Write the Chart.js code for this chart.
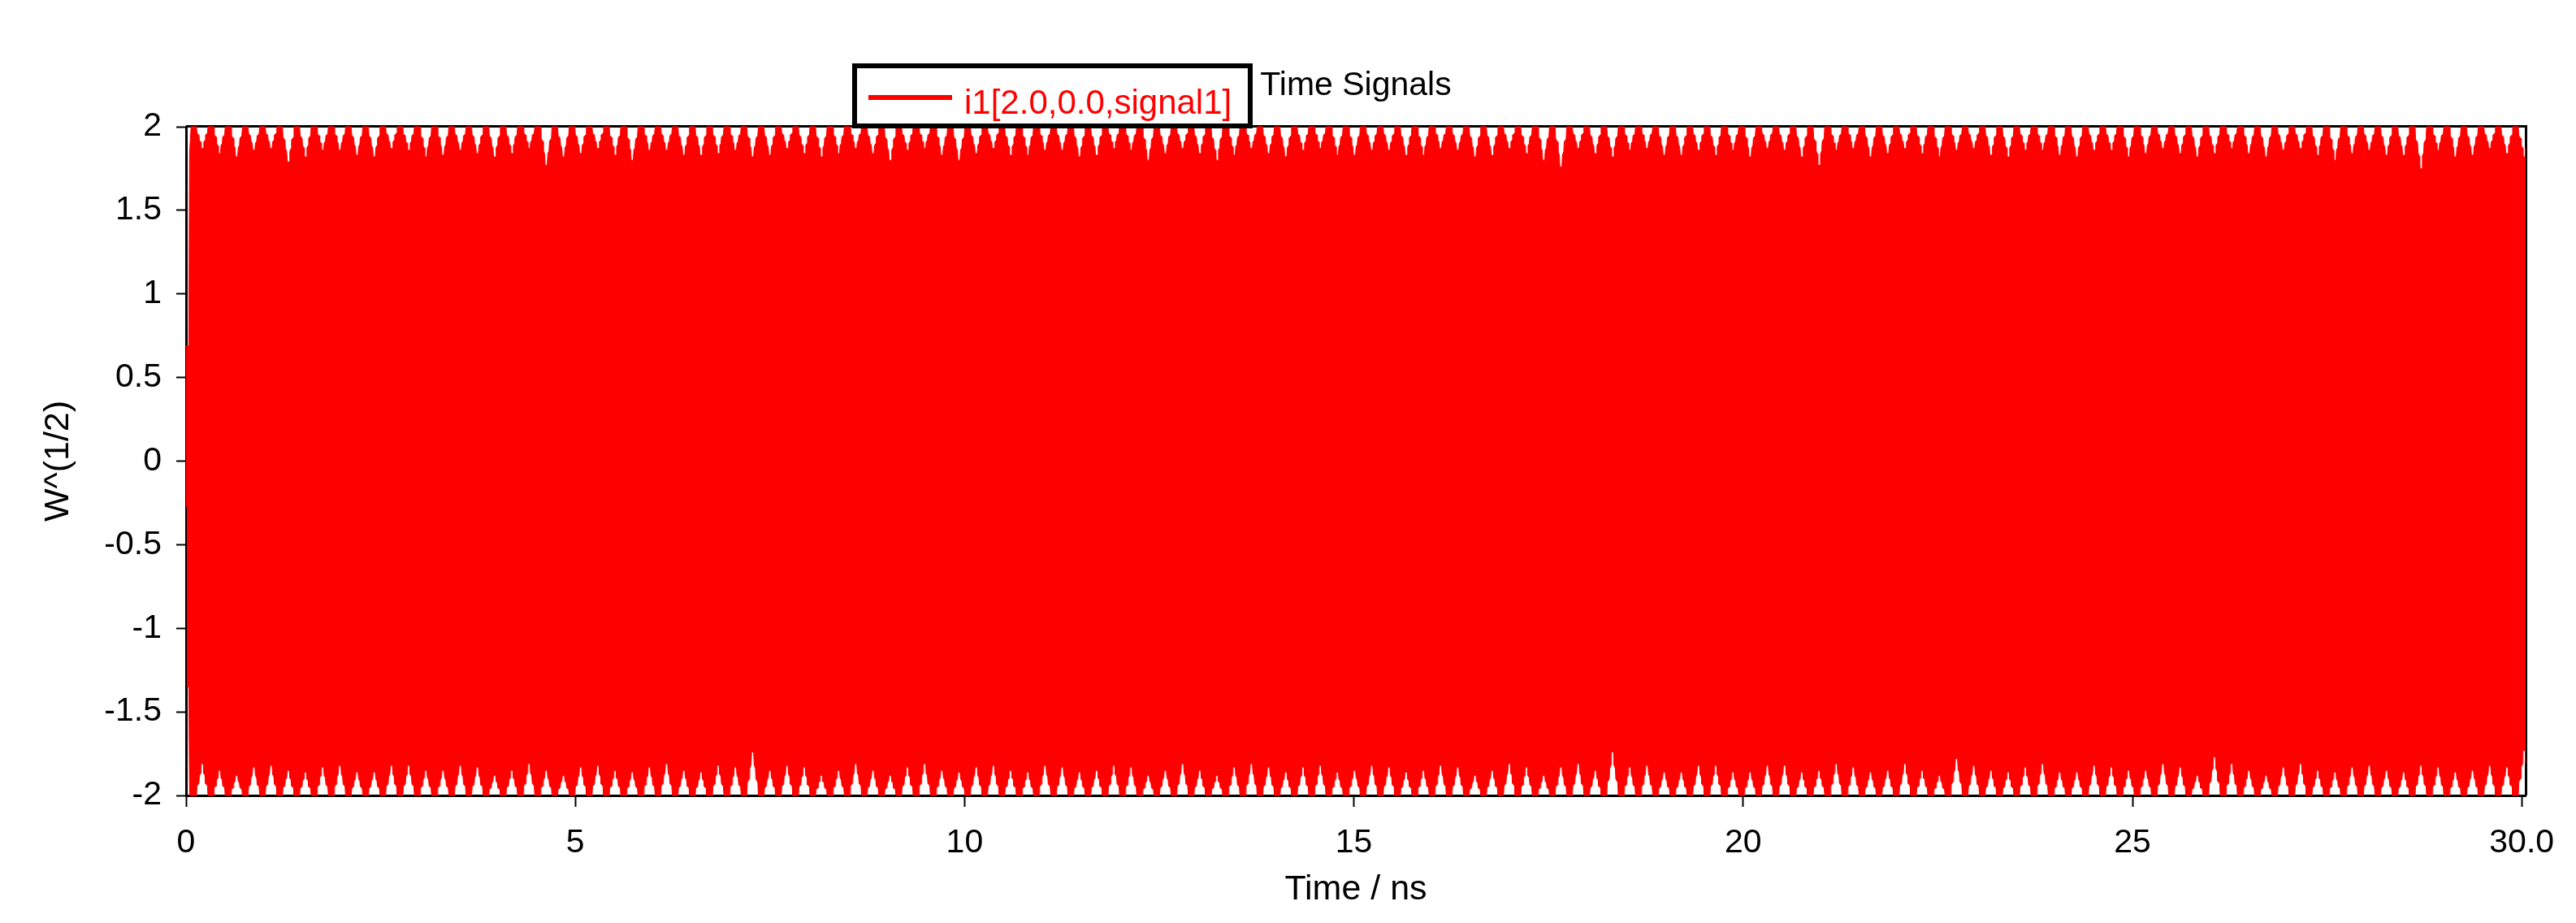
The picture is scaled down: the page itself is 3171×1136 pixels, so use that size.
<!DOCTYPE html>
<html>
<head>
<meta charset="utf-8">
<script src="https://cdn.jsdelivr.net/npm/chart.js@4.4.1/dist/chart.umd.min.js"></script>
<style>
  html, body { margin: 0; padding: 0; background: #fff; }
  #wrap { width: 3171px; height: 1136px; }
</style>
</head>
<body>
<div id="wrap"><canvas id="c" width="3171" height="1136"></canvas></div>
<script>
// ---------------- data ----------------
const seriesName = 'i1[2.0,0.0,signal1]';
const chartTitle = 'Time Signals';
const xTitle = 'Time / ns';
const yTitle = 'W^(1/2)';

const xTicks = [0, 5, 10, 15, 20, 25, 30];
const xTickLabels = ['0', '5', '10', '15', '20', '25', '30.0'];
const yTicks = [-2, -1.5, -1, -0.5, 0, 0.5, 1, 1.5, 2];
const yTickLabels = ['-2', '-1.5', '-1', '-0.5', '0', '0.5', '1', '1.5', '2'];

// peak amplitude of the dense oscillation (W^(1/2))
const peakLevel = 2.0;

// start of the trace (ns) and its first upper / lower extremes
const leadTimes = [0, 0.015, 0.02, 0.035, 0.045, 0.065];
const leadUpper = [0.69, 0.69, 0.69, 0.69, 1.84, 2.0];
const leadLower = [-0.27, -0.27, -1.35, -1.35, -2.0, -2.0];

// times (ns) where the oscillation peaks dip below full amplitude
const notchTimes = [
  0.208, 0.429, 0.650, 0.871, 1.092, 1.313, 1.533, 1.754, 1.975, 2.196,
  2.417, 2.638, 2.859, 3.080, 3.301, 3.522, 3.742, 3.963, 4.184, 4.405,
  4.626, 4.847, 5.068, 5.289, 5.510, 5.731, 5.951, 6.172, 6.393, 6.614,
  6.835, 7.056, 7.277, 7.498, 7.719, 7.940, 8.160, 8.381, 8.602, 8.823,
  9.044, 9.265, 9.486, 9.707, 9.928, 10.149, 10.369, 10.590, 10.811, 11.032,
  11.253, 11.474, 11.695, 11.916, 12.137, 12.358, 12.578, 12.799, 13.020, 13.241,
  13.462, 13.683, 13.904, 14.125, 14.346, 14.567, 14.787, 15.008, 15.229, 15.450,
  15.671, 15.892, 16.113, 16.334, 16.555, 16.776, 16.996, 17.217, 17.438, 17.659,
  17.880, 18.101, 18.322, 18.543, 18.764, 18.985, 19.205, 19.426, 19.647, 19.868,
  20.089, 20.310, 20.531, 20.752, 20.973, 21.194, 21.414, 21.635, 21.856, 22.077,
  22.298, 22.519, 22.740, 22.961, 23.182, 23.403, 23.623, 23.844, 24.065, 24.286,
  24.507, 24.728, 24.949, 25.170, 25.391, 25.612, 25.832, 26.053, 26.274, 26.495,
  26.716, 26.937, 27.158, 27.379, 27.600, 27.821, 28.041, 28.262, 28.483, 28.704,
  28.925, 29.146, 29.367, 29.588, 29.809, 30.030
];

// lowest positive peak at each dip (W^(1/2))
const topDips = [
  1.87, 1.84, 1.82, 1.86, 1.87, 1.79, 1.82, 1.86, 1.86, 1.83, 1.82, 1.87, 1.86, 1.82, 1.83,
  1.86, 1.84, 1.82, 1.84, 1.87, 1.77, 1.82, 1.84, 1.87, 1.83, 1.80, 1.86, 1.86, 1.83, 1.83,
  1.84, 1.86, 1.82, 1.83, 1.87, 1.84, 1.82, 1.84, 1.87, 1.84, 1.80, 1.86, 1.87, 1.83, 1.80,
  1.84, 1.87, 1.83, 1.83, 1.86, 1.86, 1.82, 1.83, 1.87, 1.86, 1.80, 1.84, 1.87, 1.84, 1.80,
  1.83, 1.87, 1.84, 1.82, 1.86, 1.87, 1.83, 1.83, 1.86, 1.86, 1.83, 1.83, 1.87, 1.86, 1.82,
  1.83, 1.87, 1.84, 1.80, 1.76, 1.87, 1.84, 1.82, 1.86, 1.87, 1.83, 1.83, 1.86, 1.83, 1.86,
  1.82, 1.87, 1.86, 1.82, 1.77, 1.86, 1.87, 1.82, 1.84, 1.87, 1.84, 1.82, 1.86, 1.87, 1.83,
  1.82, 1.86, 1.86, 1.83, 1.82, 1.86, 1.86, 1.82, 1.84, 1.87, 1.84, 1.82, 1.84, 1.87, 1.84,
  1.82, 1.86, 1.87, 1.83, 1.80, 1.84, 1.86, 1.83, 1.83, 1.75, 1.86, 1.82, 1.83, 1.87, 1.84,
  1.82
];

// highest negative peak at each dip (W^(1/2))
const bottomDips = [
  -1.81, -1.85, -1.88, -1.83, -1.82, -1.85, -1.86, -1.83, -1.82, -1.86, -1.86, -1.82, -1.82, -1.85, -1.85,
  -1.82, -1.83, -1.88, -1.85, -1.81, -1.85, -1.88, -1.83, -1.82, -1.85, -1.86, -1.83, -1.81, -1.85, -1.86,
  -1.82, -1.83, -1.74, -1.85, -1.82, -1.83, -1.88, -1.85, -1.81, -1.85, -1.88, -1.83, -1.81, -1.85, -1.86,
  -1.83, -1.82, -1.85, -1.86, -1.82, -1.83, -1.86, -1.85, -1.82, -1.83, -1.88, -1.85, -1.81, -1.85, -1.88,
  -1.83, -1.81, -1.83, -1.86, -1.83, -1.82, -1.86, -1.85, -1.82, -1.83, -1.86, -1.85, -1.82, -1.83, -1.88,
  -1.85, -1.81, -1.83, -1.88, -1.83, -1.81, -1.85, -1.74, -1.83, -1.82, -1.86, -1.86, -1.82, -1.82, -1.86,
  -1.86, -1.82, -1.82, -1.86, -1.85, -1.81, -1.83, -1.86, -1.85, -1.81, -1.85, -1.88, -1.78, -1.82, -1.85,
  -1.86, -1.83, -1.81, -1.86, -1.86, -1.82, -1.83, -1.85, -1.85, -1.81, -1.83, -1.88, -1.77, -1.81, -1.85,
  -1.88, -1.83, -1.81, -1.85, -1.86, -1.83, -1.82, -1.85, -1.86, -1.82, -1.83, -1.86, -1.85, -1.82, -1.83,
  -1.73
];

// ---------------- styling / shape of each dip ----------------
// [time offset (ns), fraction of the dip depth]
const dipProfile = [
  [-0.074, 0], [-0.067, 0.3], [-0.042, 0.38], [-0.036, 0.62], [-0.020, 0.7], [-0.013, 1],
  [0.013, 1], [0.020, 0.7], [0.036, 0.62], [0.042, 0.38], [0.067, 0.3], [0.074, 0]
];

const RED = '#ff0000';
const FONT = "'Liberation Sans', Arial, sans-serif";

function envelope(leadVals, dips, sign) {
  const pts = leadTimes.map((t, k) => ({ x: t, y: leadVals[k] }));
  notchTimes.forEach((t, i) => {
    const depth = peakLevel - Math.abs(dips[i]);
    dipProfile.forEach(([dt, f]) => {
      pts.push({ x: t + dt, y: sign * (peakLevel - f * depth) });
    });
  });
  return pts;
}

const lowerPts = envelope(leadLower, bottomDips, -1);
const upperPts = envelope(leadUpper, topDips, 1);

const decor = {
  id: 'decor',
  beforeDatasetsDraw(chart) {
    const { ctx, chartArea: a } = chart;
    ctx.save();
    ctx.strokeStyle = '#000';
    ctx.lineWidth = 3;
    ctx.beginPath();
    ctx.moveTo(a.left, a.top - 0.5);
    ctx.lineTo(a.right + 0.5, a.top - 0.5);
    ctx.lineTo(a.right + 0.5, a.bottom);
    ctx.stroke();
    ctx.restore();
  },
  afterDatasetsDraw(chart) {
    const { ctx, chartArea: a } = chart;
    const cx = (a.left + a.right) / 2;
    const boxR = cx - 127, boxL = boxR - 493, boxT = a.top - 78, boxB = a.top + 2;
    ctx.save();
    ctx.fillStyle = '#fff';
    ctx.fillRect(boxL, boxT, boxR - boxL, boxB - boxT);
    ctx.strokeStyle = '#000';
    ctx.lineWidth = 6;
    ctx.strokeRect(boxL + 3, boxT + 3, boxR - boxL - 6, boxB - boxT - 6);
    const midY = boxT + 42;
    ctx.strokeStyle = RED;
    ctx.lineWidth = 6;
    ctx.beginPath();
    ctx.moveTo(boxL + 20, midY);
    ctx.lineTo(boxL + 123, midY);
    ctx.stroke();
    ctx.fillStyle = RED;
    ctx.font = '42px ' + FONT;
    ctx.textAlign = 'left';
    ctx.textBaseline = 'alphabetic';
    ctx.fillText(chart.data.datasets[1].label, boxL + 138, boxT + 62);
    ctx.restore();
  },
  afterDraw(chart) {
    const { ctx, chartArea: a } = chart;
    ctx.save();
    ctx.fillStyle = '#000';
    ctx.font = '41px ' + FONT;
    ctx.textAlign = 'center';
    ctx.textBaseline = 'alphabetic';
    ctx.fillText(chartTitle, (a.left + a.right) / 2, a.top - 39);
    ctx.restore();
  }
};

Chart.defaults.font.family = FONT;
Chart.defaults.color = '#000';

new Chart(document.getElementById('c'), {
  type: 'line',
  data: {
    datasets: [
      {
        label: seriesName,
        data: lowerPts,
        borderColor: RED,
        borderWidth: 1,
        backgroundColor: RED,
        pointRadius: 0,
        fill: false,
        tension: 0,
        clip: 3
      },
      {
        label: seriesName,
        data: upperPts,
        borderColor: RED,
        borderWidth: 1,
        backgroundColor: RED,
        pointRadius: 0,
        fill: '-1',
        tension: 0,
        clip: 3
      }
    ]
  },
  options: {
    responsive: false,
    animation: false,
    devicePixelRatio: 1,
    layout: { padding: { left: 0, right: 62, top: 156, bottom: 0 } },
    plugins: {
      legend: { display: false },
      title: { display: false },
      tooltip: { enabled: false }
    },
    scales: {
      x: {
        type: 'linear',
        min: 0,
        max: 30.05,
        afterFit(s) { s.height = 157; },
        afterBuildTicks(s) { s.ticks = xTicks.map(v => ({ value: v })); },
        grid: { drawOnChartArea: false, drawTicks: true, tickLength: 14, tickWidth: 2, tickColor: '#000', color: '#000' },
        border: { display: true, color: '#000', width: 3 },
        ticks: {
          font: { size: 41 },
          color: '#000',
          padding: 20,
          maxRotation: 0,
          autoSkip: false,
          callback: (v, i) => xTickLabels[i]
        },
        title: {
          display: true,
          text: xTitle,
          font: { size: 43 },
          color: '#000',
          padding: { top: 0, bottom: 15 }
        }
      },
      y: {
        type: 'linear',
        min: -2,
        max: 2,
        afterFit(s) { s.width = 229; },
        afterBuildTicks(s) { s.ticks = yTicks.map(v => ({ value: v })); },
        grid: { drawOnChartArea: false, drawTicks: true, tickLength: 12, tickWidth: 2, tickColor: '#000', color: '#000' },
        border: { display: true, color: '#000', width: 3 },
        ticks: {
          font: { size: 41 },
          color: '#000',
          padding: 18,
          autoSkip: false,
          callback: (v, i) => yTickLabels[i]
        },
        title: {
          display: true,
          text: yTitle,
          font: { size: 43 },
          color: '#000',
          padding: { top: 46, bottom: 0 }
        }
      }
    }
  },
  plugins: [decor]
});
</script>
</body>
</html>
